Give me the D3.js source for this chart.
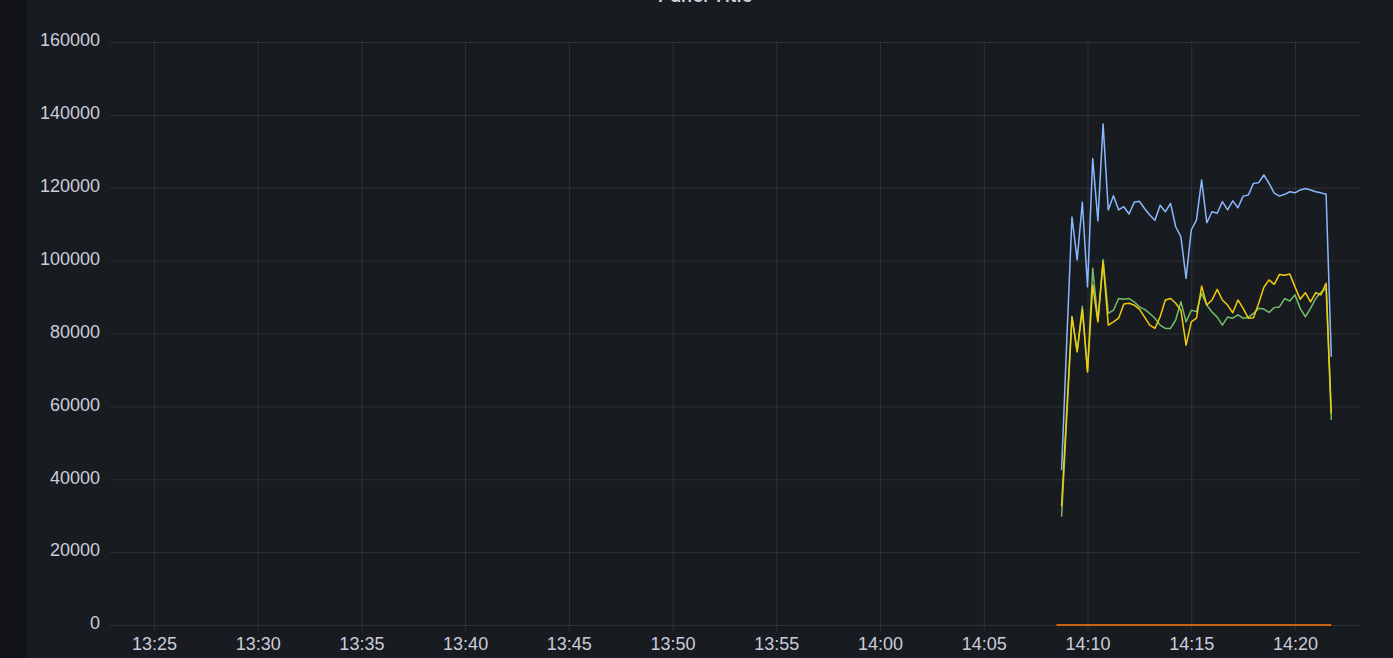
<!DOCTYPE html>
<html>
<head>
<meta charset="utf-8">
<script src="https://cdn.jsdelivr.net/npm/d3@7/dist/d3.min.js"></script>
<style>
  html, body { margin: 0; padding: 0; background: #111217; overflow: hidden; }
  svg { display: block; font-family: Roboto, "Noto Sans", sans-serif; }
</style>
</head>
<body>
<svg id="chart" width="1393" height="658"></svg>
<script>
// ---- data ----
const title = "Panel Title";
const seriesStart = "2021-01-01T14:08:45Z";   // first sample
const orangeStart = "2021-01-01T14:08:30Z";   // orange series starts one sample earlier
const stepSeconds = 15;
const domainStart = "2021-01-01T13:22:53Z";
const domainEnd   = "2021-01-01T14:23:08Z";
const yTicks = [0, 20000, 40000, 60000, 80000, 100000, 120000, 140000, 160000];

const greenValues = [29700, 57000, 84600, 75000, 87500, 69500, 97900, 83500, 100300, 85500,
  86400, 89600, 89400, 89600, 88700, 87300, 86600, 85500, 84200, 82300,
  81400, 81400, 83700, 88700, 83200, 86400, 86000, 91000, 87800, 85900,
  84500, 82300, 84500, 84200, 85100, 84200, 84400, 85500, 86900, 86700,
  85800, 87100, 87300, 89600, 88900, 90600, 86900, 84600, 86900, 89600,
  91300, 92400, 56300];

const yellowValues = [32600, 59000, 84600, 75000, 86600, 69500, 93300, 83200, 99700, 82300,
  83200, 84200, 88100, 88300, 87800, 86700, 84500, 82300, 81400, 84600,
  89200, 89600, 88300, 86400, 76800, 83200, 84200, 93000, 87800, 89200,
  92100, 89200, 87800, 85700, 89200, 86900, 84200, 84300, 88300, 92700,
  94700, 93500, 96200, 96000, 96300, 92800, 89400, 91200, 88700, 91200,
  90600, 93800, 58100];

const blueValues = [42500, 78000, 112000, 100200, 116000, 92800, 128000, 110900, 137500, 113900,
  117800, 113900, 114800, 112800, 116000, 116300, 114300, 112500, 111100, 115200,
  113400, 115700, 109300, 106600, 95100, 108400, 111100, 122100, 110400, 113400,
  113000, 116200, 113900, 116400, 114500, 117700, 118000, 121200, 121400, 123500,
  121200, 118500, 117700, 118200, 118900, 118600, 119400, 119800, 119400, 118900,
  118600, 118200, 73600];

const orangeValues = [0, 0, 0, 0, 0, 0, 0, 0, 0, 0,
  0, 0, 0, 0, 0, 0, 0, 0, 0, 0,
  0, 0, 0, 0, 0, 0, 0, 0, 0, 0,
  0, 0, 0, 0, 0, 0, 0, 0, 0, 0,
  0, 0, 0, 0, 0, 0, 0, 0, 0, 0,
  0, 0, 0, 0];

const seriesColors = { green: "#73BF69", yellow: "#F2CC0C", blue: "#8AB8FF", orange: "#FF780A" };

// ---- build ----
function withTimes(values, start) {
  const t0 = new Date(start).getTime();
  return values.map((v, i) => ({ t: new Date(t0 + i * stepSeconds * 1000), v }));
}
const series = [
  { name: "green",  data: withTimes(greenValues, seriesStart) },
  { name: "yellow", data: withTimes(yellowValues, seriesStart) },
  { name: "blue",   data: withTimes(blueValues, seriesStart) },
  { name: "orange", data: withTimes(orangeValues, orangeStart) }
];

const svg = d3.select("#chart");
const W = 1393, H = 658;
const plot = { left: 110, right: 1360, top: 42, bottom: 625 };

svg.append("rect").attr("x", 0).attr("y", 0).attr("width", W).attr("height", H).attr("fill", "#111217");
svg.append("rect").attr("x", 26).attr("y", 0).attr("width", W - 26).attr("height", H).attr("fill", "#181b1f");

const x = d3.scaleUtc().domain([new Date(domainStart), new Date(domainEnd)]).range([plot.left, plot.right]);
const y = d3.scaleLinear().domain([0, 160000]).range([plot.bottom, plot.top]);

const gridColor = "rgba(204,204,220,0.12)";
const textColor = "rgb(204,204,220)";

// horizontal grid + y labels
const yAxis = d3.axisLeft(y).tickValues(yTicks).tickSize(-(plot.right - plot.left)).tickPadding(10).tickFormat(d3.format("d"));
const gy = svg.append("g").attr("transform", `translate(${plot.left},0)`).call(yAxis);
gy.select(".domain").remove();
gy.selectAll(".tick line").attr("stroke", gridColor).attr("stroke-width", 1);
gy.selectAll(".tick text").attr("fill", textColor).attr("font-size", 18).attr("dy", "0.32em")
  .attr("y", -2);

// vertical grid + x labels
const xAxis = d3.axisBottom(x).ticks(d3.utcMinute.every(5)).tickFormat(d3.utcFormat("%H:%M"))
  .tickSizeInner(-(plot.bottom - plot.top)).tickSizeOuter(0).tickPadding(12);
const gx = svg.append("g").attr("transform", `translate(0,${plot.bottom})`).call(xAxis);
gx.select(".domain").remove();
gx.selectAll(".tick line").attr("stroke", gridColor).attr("stroke-width", 1).attr("y1", 6);
gx.selectAll(".tick text").attr("fill", textColor).attr("font-size", 18);

// lines
const line = d3.line().x(d => x(d.t)).y(d => y(d.v));
series.forEach(s => {
  svg.append("path").datum(s.data).attr("d", line)
    .attr("fill", "none").attr("stroke", seriesColors[s.name])
    .attr("stroke-width", 1.5).attr("stroke-linejoin", "round");
});

// title (mostly clipped at top)
svg.append("text").attr("x", 705).attr("y", 2).attr("text-anchor", "middle")
  .attr("fill", textColor).attr("font-size", 20).attr("font-weight", 500).text(title);
</script>
</body>
</html>
